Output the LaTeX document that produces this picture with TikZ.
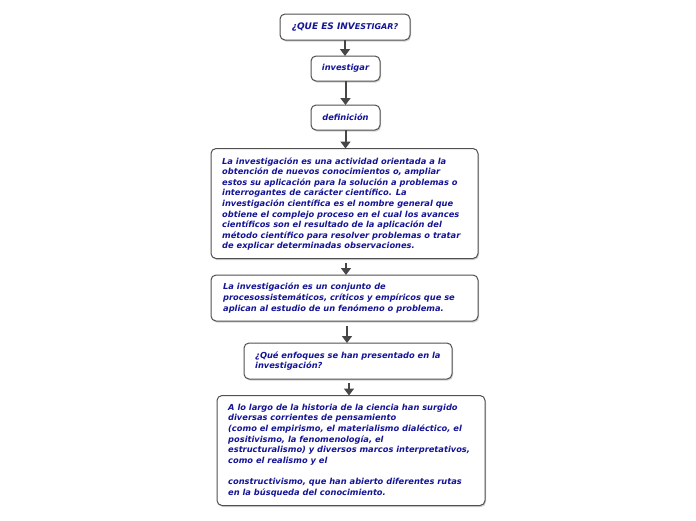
\documentclass[tikz,border=0pt]{standalone}
\usepackage{fontspec}
\setmainfont{DejaVu Sans}
\usetikzlibrary{arrows.meta,shadows}
\definecolor{txtblue}{RGB}{20,20,150}
\definecolor{edgegray}{RGB}{80,80,80}
\definecolor{arrgray}{RGB}{70,72,72}
\newcommand{\bxfont}{\fontsize{8.3}{10.6}\selectfont\bfseries\itshape}
\tikzset{
  box/.style={draw=edgegray, line width=1pt, rounded corners=5pt, fill=white,
    drop shadow={shadow xshift=1pt, shadow yshift=-1.5pt, fill=black!30, opacity=0.6},
    text=txtblue, font=\bxfont, inner sep=0pt, outer sep=0pt},
  btext/.style={text=txtblue, font=\bxfont, inner sep=0pt, align=left, anchor=west},
  conn/.style={draw=arrgray, line width=2pt, -{Triangle[width=10pt,length=7pt]}}
}
\begin{document}
\begin{tikzpicture}[x=1pt,y=-1pt]
\useasboundingbox (0,0) rectangle (696,520);
\node[box, minimum width=130pt, minimum height=26pt] (q) at (345,27)
  {{\fontsize{9}{10}\selectfont ¿QUE ES INV}{\fontsize{8}{9}\selectfont ESTIGAR?}};
\node[box, minimum width=69pt, minimum height=25pt] (inv) at (345.5,68.5) {investigar};
\node[box, minimum width=69pt, minimum height=25pt] (def) at (345.5,117.5) {definición};
\node[box, minimum width=267pt, minimum height=110pt] (d1) at (344.5,203.5) {};
\node[btext] (d1t) at ([xshift=11pt,yshift=-0.5pt]d1.west)
  {La investigación es una actividad orientada a la\\
   obtención de nuevos conocimientos o, ampliar\\
   estos su aplicación para la solución a problemas o\\
   interrogantes de carácter científico. La\\
   investigación científica es el nombre general que\\
   obtiene el complejo proceso en el cual los avances\\
   científicos son el resultado de la aplicación del\\
   método científico para resolver problemas o tratar\\
   de explicar determinadas observaciones.};
\node[box, minimum width=267pt, minimum height=46pt] (d2) at (344.5,298) {};
\node[btext] (d2t) at ([xshift=12pt]d2.west)
  {La investigación es un conjunto de\\
   procesossistemáticos, críticos y empíricos que se\\
   aplican al estudio de un fenómeno o problema.};
\node[box, minimum width=208pt, minimum height=36pt] (enf) at (348,361) {};
\node[btext] (enft) at ([xshift=11pt]enf.west)
  {¿Qué enfoques se han presentado en la\\
   investigación?};
\node[box, minimum width=268pt, minimum height=110pt] (hist) at (351,450.5) {};
\node[btext] (histt) at ([xshift=11pt]hist.west)
  {A lo largo de la historia de la ciencia han surgido\\
   diversas corrientes de pensamiento\\
   (como el empirismo, el materialismo dialéctico, el\\
   positivismo, la fenomenología, el\\
   estructuralismo) y diversos marcos interpretativos,\\
   como el realismo y el\\[10.6pt]
   constructivismo, que han abierto diferentes rutas\\
   en la búsqueda del conocimiento.};
\draw[conn] (q.south) -- (q.south |- inv.north);
\draw[conn] (inv.south) -- (inv.south |- def.north);
\draw[conn] (def.south) -- (def.south |- d1.north);
\draw[conn, shorten <=4pt] ([xshift=1.5pt]d1.south) -- ([xshift=1.5pt]d1.south |- d2.north);
\draw[conn, shorten <=5pt] ([xshift=2.5pt]d2.south) -- ([xshift=2.5pt]d2.south |- enf.north);
\draw[conn, shorten <=4pt] ([xshift=1pt]enf.south) -- ([xshift=1pt]enf.south |- hist.north);
\end{tikzpicture}
\end{document}
